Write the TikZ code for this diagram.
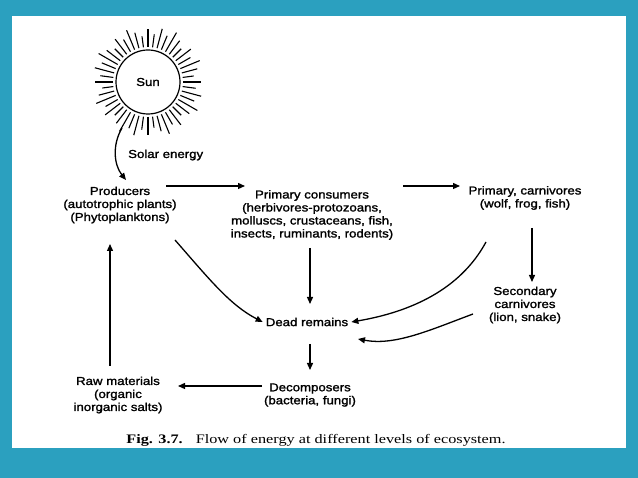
\documentclass[tikz,border=0pt]{standalone}
\usepackage{fontspec}
\setmainfont{Liberation Sans}[FakeStretch=1.15,FakeBold=1.5]
\newfontfamily\capfont{Liberation Serif}[FakeStretch=1.25]
\usetikzlibrary{arrows.meta}
\definecolor{frame}{HTML}{2BA0BF}
\begin{document}
\begin{tikzpicture}[x=1pt,y=-1pt,
  lbl/.style={align=center,font=\fontsize{11.5}{13}\selectfont,inner sep=1pt},
  arr/.style={-{Triangle[length=7pt,width=6pt]},line width=1.3pt}]
\fill[frame] (0,0) rectangle (638,478);
\fill[white] (12,16) rectangle (626,448);
% sun
\node[circle,draw,line width=1.2pt,minimum size=64pt,inner sep=0,font=\fontsize{11.5}{13}\selectfont] (sun) at (148,82) {Sun};
\foreach \a [count=\i] in {0,7.5,...,352.5}{
  \pgfmathsetmacro\L{46+mod(\i*7,12)}
  \draw[line width=1.1pt] (sun.center) ++(\a:35) -- ++(\a:\L-35);
}
\node[lbl,anchor=west] (solar) at (127,155) {Solar energy};
\node[lbl] (prod) at (120,205) {Producers\\(autotrophic plants)\\(Phytoplanktons)};
\node[lbl] (pc) at (312,215) {Primary consumers\\(herbivores-protozoans,\\molluscs, crustaceans, fish,\\insects, ruminants, rodents)};
\node[lbl] (pcar) at (525,198) {Primary, carnivores\\(wolf, frog, fish)};
\node[lbl] (scar) at (525,305) {Secondary\\carnivores\\(lion, snake)};
\node[lbl] (dead) at (307,322) {Dead remains};
\node[lbl] (dec) at (310,395) {Decomposers\\(bacteria, fungi)};
\node[lbl] (raw) at (118,395) {Raw materials\\(organic\\inorganic salts)};
\node[font=\capfont\fontsize{13}{15}\selectfont] (cap) at (316,440) {\textbf{Fig. 3.7.}\quad Flow of energy at different levels of ecosystem.};
% arrows
\coordinate (s1) at (122,128);
\coordinate (s2) at (126,180);
\draw[arr] (s1) .. controls (112,145) and (114,165) .. (s2);
\draw[arr] (166,186) -- (245,186);
\draw[arr] (403,186) -- (460,186);
\draw[arr] (532,228) -- (532,282);
\coordinate (p1) at (310,248);
\draw[arr] (p1) -- (310,304);
\coordinate (c1) at (175,240);
\draw[arr] (c1) .. controls (210,280) and (230,305) .. ([xshift=-2pt]dead.west);
\coordinate (c2) at (486,242);
\draw[arr] (c2) .. controls (460,290) and (410,312) .. ([xshift=2pt]dead.east);
\coordinate (c3) at (473,314);
\draw[arr] (c3) .. controls (430,330) and (395,346) .. (358,339);
\draw[arr] (310,344) -- (310,370);
\draw[arr] (262,386) -- (178,386);
\coordinate (r1) at (110,366);
\draw[arr] (r1) -- (110,244);
\useasboundingbox (0,0) rectangle (638,478);
\end{tikzpicture}
\end{document}
